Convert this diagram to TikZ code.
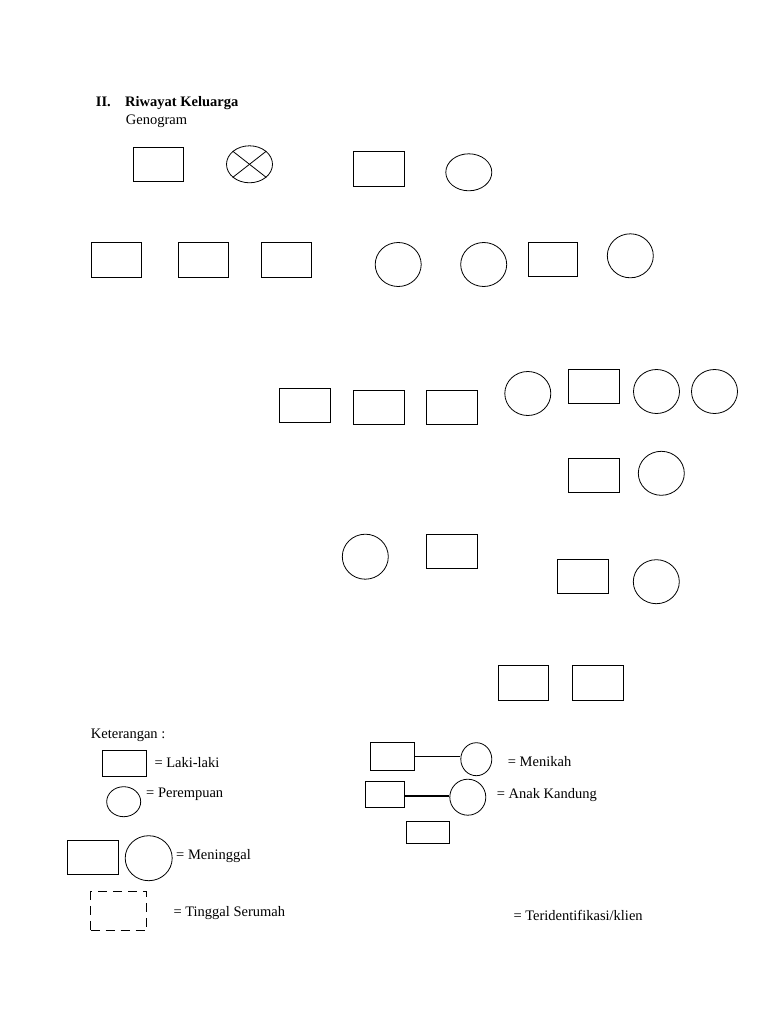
\documentclass[tikz,border=0pt]{standalone}
\usepackage{fontspec}
\setmainfont{Liberation Serif}
\usetikzlibrary{shapes.geometric}
\begin{document}
\begin{tikzpicture}[x=1pt,y=-1pt,
  male/.style={draw, rectangle, line width=0.8pt, inner sep=0pt, minimum width=51pt, minimum height=34pt},
  female/.style={draw, ellipse, line width=0.8pt, inner sep=0pt, minimum width=46pt, minimum height=44pt},
  lbl/.style={anchor=base west, inner sep=0pt, font=\fontsize{14.5}{17}\selectfont},
  conn/.style={line width=0.8pt}]
\useasboundingbox[fill=white] (0,0) rectangle (768,1024);
% title
\node[lbl, font=\fontsize{14.5}{17}\selectfont\bfseries] (t1) at (95.7,106.7) {II.};
\node[lbl, font=\fontsize{14.5}{17}\selectfont\bfseries] (t2) at (125,106.7) {Riwayat Keluarga};
\node[lbl] (t3) at (125.7,125) {Genogram};
% row 1
\node[male, minimum width=50pt] (r1) at (158.3,164.3) {};
\node[female, minimum width=46pt, minimum height=37pt] (e1) at (249.5,164.3) {};
\draw[conn] (e1.142) -- (e1.-38);
\draw[conn] (e1.38) -- (e1.218);
\node[male, minimum height=35pt] (r2) at (378.8,169.3) {};
\node[female, minimum height=37pt] (e2) at (468.8,172.3) {};
% row 2
\node[male, minimum width=50pt, minimum height=35pt] (r3) at (116,260.3) {};
\node[male, minimum width=50pt, minimum height=35pt] (r4) at (203,260.3) {};
\node[male, minimum width=50pt, minimum height=35pt] (r5) at (286.5,260.3) {};
\node[female] (c1) at (398.2,264.5) {};
\node[female] (c2) at (483.7,264.5) {};
\node[male, minimum width=49pt] (r6) at (553,259.7) {};
\node[female] (c3) at (630.3,255.8) {};
% row 3
\node[male] (r7) at (304.7,405.3) {};
\node[male] (r8) at (378.8,407.3) {};
\node[male] (r9) at (452,407.3) {};
\node[female] (c4) at (527.8,393.5) {};
\node[male] (r10) at (593.7,386.7) {};
\node[female] (c5) at (656.5,391.5) {};
\node[female] (c6) at (714.5,391.5) {};
% row 4
\node[male] (r11) at (593.7,475.7) {};
\node[female] (c7) at (661.3,473.3) {};
% row 5
\node[female, minimum height=45pt] (c8) at (365.3,556.7) {};
\node[male] (r12) at (452.2,551.2) {};
\node[male] (r13) at (582.7,576.8) {};
\node[female] (c9) at (656.3,581.7) {};
% row 6
\node[male, minimum width=50pt, minimum height=35pt] (r14) at (523.5,683.3) {};
\node[male, minimum height=35pt] (r15) at (597.7,683.3) {};
% legend
\node[lbl] (k) at (90.7,738.3) {Keterangan :};
\node[male, minimum width=44pt, minimum height=26pt] (lm) at (124.5,763.2) {};
\node[lbl] (lmt) at (154.3,767.3) {= Laki-laki};
\node[female, minimum width=34pt, minimum height=30pt] (lf) at (123.7,801.7) {};
\node[lbl] (lft) at (146,797) {= Perempuan};
\node[male, minimum width=51pt, minimum height=34pt] (ld) at (92.8,857.2) {};
\node[female, minimum width=47pt, minimum height=45pt] (ldc) at (148.7,858.2) {};
\node[lbl] (ldt) at (176,859.3) {= Meninggal};
\node[draw, rectangle, dash pattern=on 9pt off 6pt, line width=0.8pt, inner sep=0pt, minimum width=56pt, minimum height=39pt] (ls) at (118.7,911.3) {};
\node[lbl] (lst) at (173.3,916.7) {= Tinggal Serumah};
\node[male, minimum width=44pt, minimum height=28pt] (mr) at (392.5,756.8) {};
\node[female, minimum width=31pt, minimum height=33pt] (mc) at (476.3,759.2) {};
\draw[conn] (mr.east) -- (mr.east -| mc.west);
\node[lbl] (mt) at (507.7,766.7) {= Menikah};
\node[male, minimum width=39pt, minimum height=26pt] (ar) at (385,794.2) {};
\node[female, minimum width=36pt, minimum height=36pt] (ac) at (467.8,797.2) {};
\draw[line width=1.5pt] ([yshift=-1.8pt]ar.east) -- ([yshift=-1.8pt]ar.east -| ac.west);
\node[lbl] (at) at (496.7,798.3) {= Anak Kandung};
\node[male, minimum width=43pt, minimum height=22pt] (ir) at (428,832.3) {};
\node[lbl] (it) at (513.3,920.7) {= Teridentifikasi/klien};
\end{tikzpicture}
\end{document}
